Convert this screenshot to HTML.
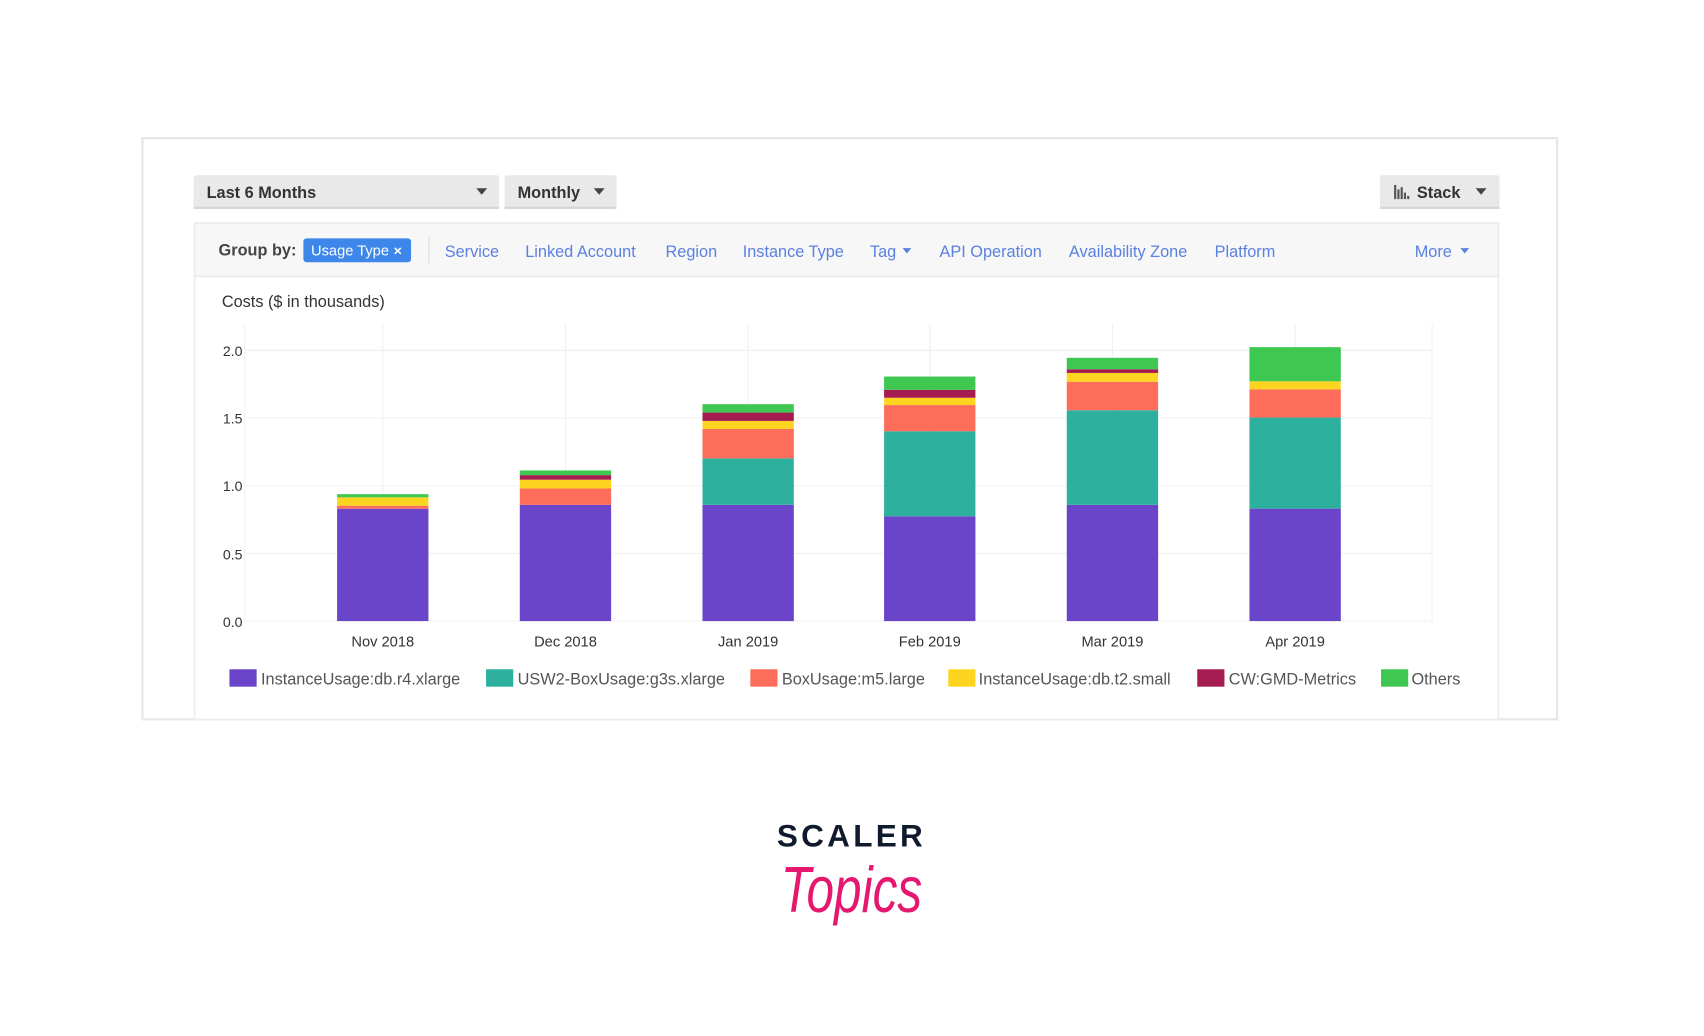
<!DOCTYPE html>
<html><head><meta charset="utf-8"><style>
html,body{margin:0;padding:0;background:#fff;width:1704px;height:1036px;overflow:hidden}
svg{display:block}
text{font-family:"Liberation Sans",sans-serif}
</style></head><body>
<svg width="1704" height="1036" viewBox="0 0 1567 952" preserveAspectRatio="none" xmlns="http://www.w3.org/2000/svg">
<rect width="1567" height="952" fill="#fff"/>
<rect x="131" y="127" width="1301" height="534" fill="#fff" stroke="#e6e6e6" stroke-width="2"/>
<rect x="178" y="161" width="281" height="31" rx="2" fill="#e9e9e9"/>
<rect x="178" y="190" width="281" height="2" fill="#d6d6d6"/>
<text x="190" y="182" font-size="15" font-weight="bold" fill="#333">Last 6 Months</text>
<path d="M438 173h10l-5 6z" fill="#444"/>
<rect x="464" y="161" width="103" height="31" rx="2" fill="#e9e9e9"/>
<rect x="464" y="190" width="103" height="2" fill="#d6d6d6"/>
<text x="476" y="182" font-size="15" font-weight="bold" fill="#333">Monthly</text>
<path d="M546 173h10l-5 6z" fill="#444"/>
<rect x="1269" y="161" width="110" height="31" rx="2" fill="#e9e9e9"/>
<rect x="1269" y="190" width="110" height="2" fill="#d6d6d6"/>
<g fill="#555"><rect x="1282" y="170" width="2" height="13"/><rect x="1285" y="174" width="2" height="9"/><rect x="1288" y="172" width="2" height="11"/><rect x="1291" y="177" width="2" height="6"/><rect x="1294" y="180" width="2" height="3"/></g>
<text x="1303" y="182" font-size="15" font-weight="bold" fill="#333">Stack</text>
<path d="M1357 173h10l-5 6z" fill="#444"/>
<rect x="179" y="205" width="1199" height="456" fill="#fff" stroke="#ececec" stroke-width="1.5"/>
<rect x="179" y="205" width="1199" height="49" fill="#f7f7f7" stroke="#ececec" stroke-width="1.5"/>
<text x="201" y="235" font-size="15" font-weight="bold" fill="#444">Group by:</text>
<rect x="279" y="219" width="99" height="22" rx="3" fill="#3d86ea"/>
<text x="286" y="235" font-size="13.5" fill="#fff">Usage Type</text>
<text x="362" y="235" font-size="13" font-weight="bold" fill="#fff">×</text>
<rect x="394" y="218" width="1" height="24" fill="#ddd"/>
<g font-size="15" fill="#5b80df">
<text x="409" y="236">Service</text>
<text x="483" y="236">Linked Account</text>
<text x="612" y="236">Region</text>
<text x="683" y="236">Instance Type</text>
<text x="800" y="236">Tag</text>
<text x="864" y="236">API Operation</text>
<text x="983" y="236">Availability Zone</text>
<text x="1117" y="236">Platform</text>
<text x="1301" y="236">More</text>
</g>
<path d="M830 228h8l-4 5z M1343 228h8l-4 5z" fill="#5b80df"/>
<text x="204" y="282" font-size="15" fill="#333">Costs ($ in thousands)</text>
<g stroke="#f0f0f0" stroke-width="1">
<line x1="225" y1="322" x2="1317" y2="322"/>
<line x1="225" y1="384" x2="1317" y2="384"/>
<line x1="225" y1="446.5" x2="1317" y2="446.5"/>
<line x1="225" y1="508.5" x2="1317" y2="508.5"/>
<line x1="225" y1="570.7" x2="1317" y2="570.7"/>
<line x1="225" y1="298" x2="225" y2="571"/>
<line x1="352" y1="298" x2="352" y2="571"/>
<line x1="520" y1="298" x2="520" y2="571"/>
<line x1="688" y1="298" x2="688" y2="571"/>
<line x1="855" y1="298" x2="855" y2="571"/>
<line x1="1023" y1="298" x2="1023" y2="571"/>
<line x1="1191" y1="298" x2="1191" y2="571"/>
<line x1="1317" y1="298" x2="1317" y2="571"/>
</g>
<g font-size="13" fill="#333" text-anchor="end">
<text x="223" y="327">2.0</text><text x="223" y="389">1.5</text><text x="223" y="451">1.0</text><text x="223" y="514">0.5</text><text x="223" y="576">0.0</text>
</g>
<g>
<rect x="310" y="467.5" width="84" height="103.2" fill="#6a44c9"/>
<rect x="310" y="464.7" width="84" height="2.8" fill="#fe6d5a"/>
<rect x="310" y="457" width="84" height="7.7" fill="#fdd521"/>
<rect x="310" y="454.1" width="84" height="2.9" fill="#3ec851"/>
<rect x="478" y="463.9" width="84" height="106.8" fill="#6a44c9"/>
<rect x="478" y="448.9" width="84" height="15" fill="#fe6d5a"/>
<rect x="478" y="440.8" width="84" height="8.1" fill="#fdd521"/>
<rect x="478" y="436.6" width="84" height="4.2" fill="#a51d50"/>
<rect x="478" y="432.3" width="84" height="4.3" fill="#3ec851"/>
<rect x="646" y="463.9" width="84" height="106.8" fill="#6a44c9"/>
<rect x="646" y="421.2" width="84" height="42.7" fill="#2db09e"/>
<rect x="646" y="394.2" width="84" height="27" fill="#fe6d5a"/>
<rect x="646" y="386.8" width="84" height="7.4" fill="#fdd521"/>
<rect x="646" y="379.1" width="84" height="7.7" fill="#a51d50"/>
<rect x="646" y="371.4" width="84" height="7.7" fill="#3ec851"/>
<rect x="813" y="474.4" width="84" height="96.3" fill="#6a44c9"/>
<rect x="813" y="396.3" width="84" height="78.1" fill="#2db09e"/>
<rect x="813" y="372.2" width="84" height="24.1" fill="#fe6d5a"/>
<rect x="813" y="365.5" width="84" height="6.7" fill="#fdd521"/>
<rect x="813" y="358.2" width="84" height="7.3" fill="#a51d50"/>
<rect x="813" y="346" width="84" height="12.2" fill="#3ec851"/>
<rect x="981" y="463.9" width="84" height="106.8" fill="#6a44c9"/>
<rect x="981" y="377" width="84" height="86.9" fill="#2db09e"/>
<rect x="981" y="350.8" width="84" height="26.2" fill="#fe6d5a"/>
<rect x="981" y="342.7" width="84" height="8.1" fill="#fdd521"/>
<rect x="981" y="339.3" width="84" height="3.4" fill="#a51d50"/>
<rect x="981" y="328.8" width="84" height="10.5" fill="#3ec851"/>
<rect x="1149" y="467.4" width="84" height="103.3" fill="#6a44c9"/>
<rect x="1149" y="383.7" width="84" height="83.7" fill="#2db09e"/>
<rect x="1149" y="357.8" width="84" height="25.9" fill="#fe6d5a"/>
<rect x="1149" y="350.4" width="84" height="7.4" fill="#fdd521"/>
<rect x="1149" y="319" width="84" height="31.4" fill="#3ec851"/>
</g>
<g font-size="13.5" fill="#333" text-anchor="middle">
<text x="352" y="594">Nov 2018</text><text x="520" y="594">Dec 2018</text><text x="688" y="594">Jan 2019</text><text x="855" y="594">Feb 2019</text><text x="1023" y="594">Mar 2019</text><text x="1191" y="594">Apr 2019</text>
</g>
<g font-size="15" fill="#555">
<rect x="211" y="615" width="25" height="16" fill="#6a44c9"/><text x="240" y="629">InstanceUsage:db.r4.xlarge</text>
<rect x="447" y="615" width="25" height="16" fill="#2db09e"/><text x="476" y="629">USW2-BoxUsage:g3s.xlarge</text>
<rect x="690" y="615" width="25" height="16" fill="#fe6d5a"/><text x="719" y="629">BoxUsage:m5.large</text>
<rect x="872" y="615" width="25" height="16" fill="#fdd521"/><text x="900" y="629">InstanceUsage:db.t2.small</text>
<rect x="1101" y="615" width="25" height="16" fill="#a51d50"/><text x="1130" y="629">CW:GMD-Metrics</text>
<rect x="1270" y="615" width="25" height="16" fill="#3ec851"/><text x="1298" y="629">Others</text>
</g>
<text x="783" y="778" font-size="29" font-weight="bold" fill="#0f1b2d" text-anchor="middle" letter-spacing="3">SCALER</text>
<text x="783" y="838" font-size="60" font-style="italic" fill="#e5176f" text-anchor="middle" font-family="Liberation Serif, serif" textLength="130" lengthAdjust="spacingAndGlyphs">Topics</text>
</svg>
</body></html>
